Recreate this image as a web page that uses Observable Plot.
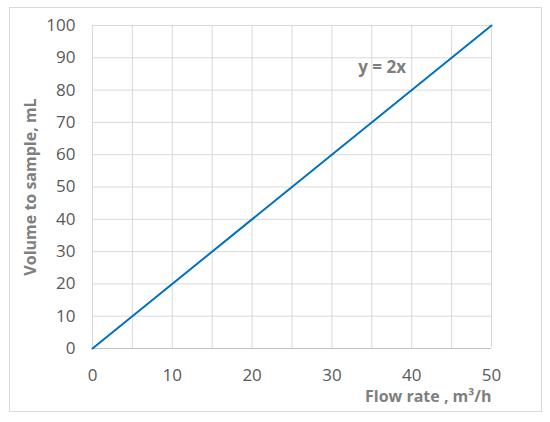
<!DOCTYPE html>
<html>
<head>
<meta charset="utf-8">
<script src="https://cdn.jsdelivr.net/npm/d3@7"></script>
<script src="https://cdn.jsdelivr.net/npm/@observablehq/plot@0.6"></script>
<style>
  body { margin: 0; background: #fff; }
  #chart { position: relative; width: 550px; height: 422px; }
  #chart .border { position: absolute; left: 9px; top: 7px; width: 531px; height: 403px;
    border: 1px solid #d9d9d9; pointer-events: none; }
</style>
</head>
<body>
<div id="chart"><div class="border"></div></div>
<script>
// Ligne y = 2x : débit (m3/h) -> volume à prélever (mL)
const flowRate = [0, 50]
const volume = [0, 100]
const xTicks = [0, 10, 20, 30, 40, 50]
const xGrid = [0, 5, 10, 15, 20, 25, 30, 35, 40, 45, 50]
const yTicks = [0, 10, 20, 30, 40, 50, 60, 70, 80, 90, 100]
const equation = {x: 33.3, y: 87, label: "y = 2x"}

const points = flowRate.map((x, i) => ({x, y: volume[i]}))

const chart = Plot.plot({
  width: 550,
  height: 422,
  marginLeft: 92,
  marginRight: 59,
  marginTop: 25,
  marginBottom: 74,
  style: {fontFamily: "'Open Sans', sans-serif", fontSize: "17px", color: "#595959", background: "transparent"},
  x: {domain: [0, 50]},
  y: {domain: [0, 100]},
  marks: [
    Plot.gridX(xGrid, {stroke: "#d9d9d9", strokeOpacity: 1}),
    Plot.gridY(yTicks, {stroke: "#d9d9d9", strokeOpacity: 1}),
    Plot.ruleY([0], {stroke: "#bfbfbf"}),
    Plot.axisX(xTicks, {tickSize: 0, tickPadding: 20, label: null, fill: "#595959", fontSize: 17}),
    Plot.axisY(yTicks, {tickSize: 0, tickPadding: 17, label: null, fill: "#595959", fontSize: 17}),
    Plot.line(points, {x: "x", y: "y", stroke: "#0070c0", strokeWidth: 2}),
    Plot.text([equation], {x: "x", y: "y", text: "label", textAnchor: "start",
      fontWeight: "bold", fontSize: 17, fill: "#7f7f7f"}),
    Plot.text(["Flow rate , m³/h"], {frameAnchor: "bottom-right", dy: 53,
      fontWeight: "bold", fontSize: 16, fill: "#7f7f7f"}),
    Plot.text(["Volume to sample, mL"], {frameAnchor: "left", textAnchor: "middle", rotate: -90, dx: -62,
      fontWeight: "bold", fontSize: 16, fill: "#7f7f7f"})
  ]
})

d3.select("#chart").append(() => chart)
d3.select(chart).style("position", "absolute").style("left", "0px").style("top", "0px")
</script>
</body>
</html>
